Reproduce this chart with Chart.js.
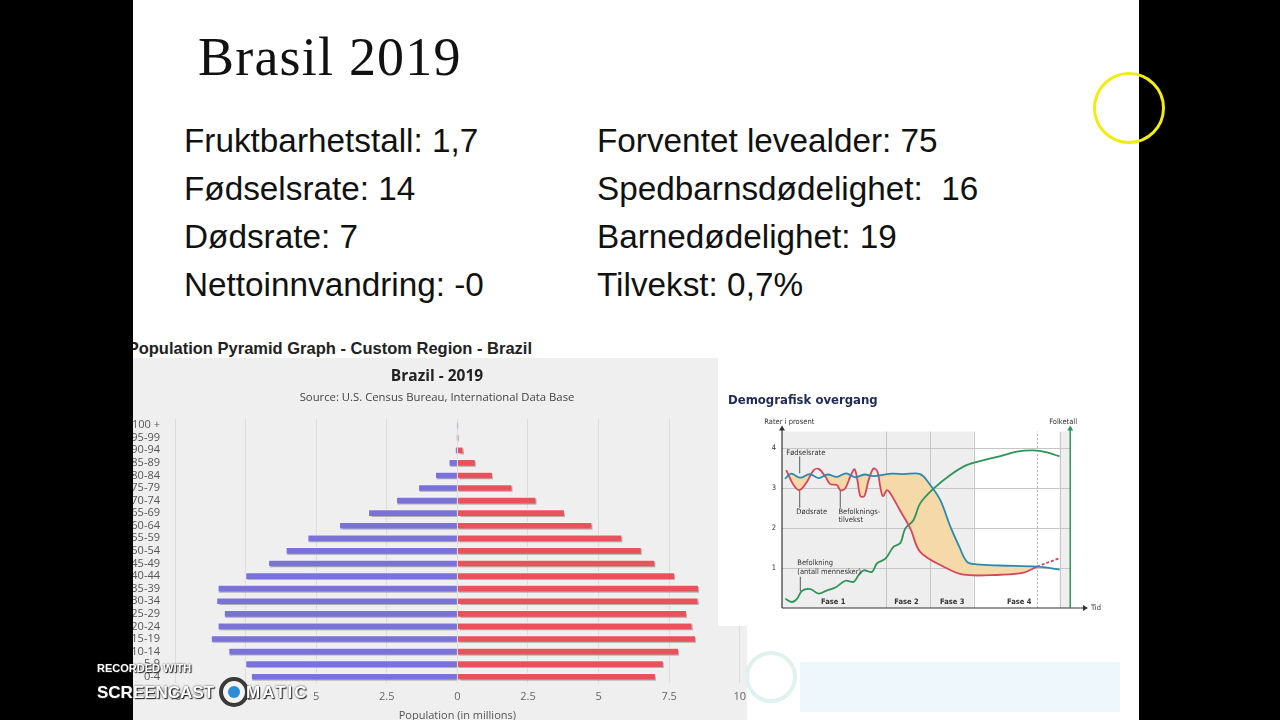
<!DOCTYPE html>
<html>
<head>
<meta charset="utf-8">
<title>Brasil 2019</title>
<script src="https://cdn.jsdelivr.net/npm/chart.js@4.4.1/dist/chart.umd.min.js"></script>
<style>
  html, body { margin: 0; padding: 0; width: 1280px; height: 720px; overflow: hidden; background: #000; }
  .abs { position: absolute; white-space: pre; }
  #slide { position: absolute; left: 133px; top: 0; width: 1006px; height: 720px; background: #fff; }
  #title { left: 198px; top: 30px; font: 54px/1 "Liberation Serif", serif; letter-spacing: 1.2px; color: #111; }
  .stats { top: 116.6px; font: 33.3px/48px "Liberation Sans", Arial, sans-serif; color: #111; }
  #pyrHead { right: 748px; top: 339.5px; font: bold 16.5px/1 "Liberation Sans", Arial, sans-serif; color: #222; }
  #pyrPanel { left: 133px; top: 358px; width: 614px; height: 362px; background: #efefef; }
  #pyramid { position: absolute; left: 118px; top: 360px; }
  #whiteBox { left: 718px; top: 358px; width: 32px; height: 268px; background: #fff; }
  #demoHead { left: 728px; top: 393px; font: bold 13px/1 "DejaVu Sans Condensed", "DejaVu Sans", sans-serif; color: #1f2a55; }
  #demo { position: absolute; left: 760px; top: 415px; }
  #band { left: 800px; top: 662px; width: 320px; height: 50px; background: #eef7fb; }
  #bandRing { left: 745px; top: 651px; width: 52px; height: 52px; box-sizing: border-box; border: 4px solid #e0f2f0; border-radius: 50%; }
  #ring { left: 1093px; top: 72px; width: 72px; height: 72px; box-sizing: border-box; border: 3px solid #f0ec14; border-radius: 50%; z-index: 8; }
  .bar { background: #000; top: 0; height: 720px; z-index: 5; }
  .wm { font: bold 17px/1 "Liberation Sans", Arial, sans-serif; color: #fff; text-shadow: 0 0 2px #222, 1px 1px 1px #222; z-index: 9; }
  #wmSmall { left: 97px; top: 663px; font-size: 11px; }
  #wmLeft { left: 97px; top: 684px; }
  #wmRight { left: 246px; top: 684px; letter-spacing: 2px; }
  #wmLogo { left: 219px; top: 677px; width: 30px; height: 30px; box-sizing: border-box; border: 4px solid #3a3a3a; background: #f4f4f4; border-radius: 50%; z-index: 9; }
  #wmDot { left: 228px; top: 686px; width: 12px; height: 12px; background: #2d8ed8; border-radius: 50%; z-index: 10; }
</style>
</head>
<body>
<div id="slide"></div>
<div class="abs" id="title">Brasil 2019</div>
<div class="abs stats" style="left:184px">Fruktbarhetstall: 1,7
Fødselsrate: 14
Dødsrate: 7
Nettoinnvandring: -0</div>
<div class="abs stats" style="left:597px">Forventet levealder: 75
Spedbarnsdødelighet:  16
Barnedødelighet: 19
Tilvekst: 0,7%</div>

<div class="abs" id="pyrPanel"></div>
<canvas id="pyramid" width="635" height="375"></canvas>
<div class="abs" id="whiteBox"></div>
<div class="abs" id="pyrHead">Population Pyramid Graph - Custom Region - Brazil</div>

<div class="abs" id="demoHead">Demografisk overgang</div>
<canvas id="demo" width="350" height="200"></canvas>

<div class="abs" id="band"></div>
<div class="abs" id="bandRing"></div>

<div class="abs bar" style="left:0;width:133px"></div>
<div class="abs bar" style="left:1139px;width:141px"></div>
<div class="abs" id="ring"></div>

<div class="abs wm" id="wmSmall">RECORDED WITH</div>
<div class="abs wm" id="wmLeft">SCREENCAST</div>
<div class="abs" id="wmLogo"></div>
<div class="abs" id="wmDot"></div>
<div class="abs wm" id="wmRight">MATIC</div>

<script>
// Population pyramid, Brazil 2019 (millions), top row = oldest
const ageGroups = ['100 +', '95-99', '90-94', '85-89', '80-84', '75-79', '70-74', '65-69', '60-64', '55-59',
  '50-54', '45-49', '40-44', '35-39', '30-34', '25-29', '20-24', '15-19', '10-14', '5-9', '0-4'];
const male = [0.01, 0.02, 0.07, 0.3, 0.78, 1.38, 2.16, 3.15, 4.18, 5.3,
  6.07, 6.69, 7.5, 8.48, 8.53, 8.26, 8.48, 8.72, 8.1, 7.5, 7.3];
const female = [0.02, 0.04, 0.21, 0.64, 1.25, 1.94, 2.79, 3.8, 4.77, 5.83,
  6.52, 7.0, 7.7, 8.55, 8.53, 8.12, 8.32, 8.44, 7.84, 7.3, 7.02];
const popTicks = [-10, -7.5, -5, -2.5, 0, 2.5, 5, 7.5, 10];

// Demographic transition sketch (time 0-100, rate 0-4.5)
const birthT = [1, 3, 6, 9, 12, 15, 18, 21, 24, 27, 30, 33, 36, 40, 45.3, 48.6, 51.9, 55.2, 58, 60.7, 63.9, 71.6, 83.6, 91];
const birthV = [3.22, 3.35, 3.25, 3.34, 3.24, 3.33, 3.27, 3.36, 3.26, 3.33, 3.29, 3.32, 3.35, 3.34, 3.34, 3.07, 2.69, 2.03, 1.55, 1.15, 1.09, 1.06, 1.03, 0.96];
const deathT = [1.4, 3.8, 5.8, 8.2, 10.4, 12, 14.2, 15.8, 18, 19.1, 20.7, 22.4, 23.8, 24.8, 25.7, 27, 28.4, 30, 31.3, 32.2, 33.1, 34.4, 35.5,
  38.8, 42.1, 45.3, 53, 59.5, 71.6, 79.2, 83.6, 91.2];
const deathV = [3.44, 3.07, 2.94, 3.15, 3.44, 3.47, 3.28, 3.09, 3.07, 2.94, 2.98, 3.28, 3.46, 3.15, 2.79, 2.79, 3.19, 3.48, 3.4, 3.03, 2.79, 2.94, 2.86,
  2.42, 1.98, 1.4, 1.03, 0.83, 0.83, 0.88, 1.03, 1.25];
const popT = [1.1, 3.3, 4.9, 6.6, 9.3, 12, 14.8, 17.5, 20.8, 23.5, 25.1, 26.8, 29.5, 31.1, 33.9, 36.6, 38.8, 40.4, 43.1, 45.3, 49.7, 55.2,
  60.7, 66.2, 71.6, 77, 82.5, 86.9, 91];
const popV = [0.23, 0.15, 0.23, 0.43, 0.47, 0.36, 0.44, 0.51, 0.68, 0.65, 0.82, 0.94, 0.9, 1.11, 1.23, 1.53, 1.62, 1.98, 2.19, 2.61, 2.98, 3.32,
  3.57, 3.69, 3.79, 3.9, 3.93, 3.88, 3.78];
const phaseEdges = [34, 48.4, 62.8, 91];
const rateTicks = [1, 2, 3, 4];

// bars have a small drop shadow in the original
const barShadow = {
  id: 'barShadow',
  beforeDatasetsDraw(chart) {
    const ctx = chart.ctx;
    ctx.save();
    ctx.shadowColor = 'rgba(0,0,0,0.28)';
    ctx.shadowOffsetX = 1;
    ctx.shadowOffsetY = 1.5;
    ctx.shadowBlur = 1;
  },
  afterDatasetsDraw(chart) {
    chart.ctx.restore();
  }
};

const openSans = 'Open Sans';

new Chart(document.getElementById('pyramid'), {
  type: 'bar',
  data: {
    labels: ageGroups,
    datasets: [
      { label: 'Male', data: male.map(v => -v), backgroundColor: '#7b72d9', borderColor: '#f2f2ff', borderWidth: 1, barThickness: 7 },
      { label: 'Female', data: female, backgroundColor: '#e8525c', borderColor: '#fff2f2', borderWidth: 1, barThickness: 7 }
    ]
  },
  options: {
    indexAxis: 'y',
    responsive: false,
    animation: false,
    layout: { padding: { left: 6, right: 3, top: 0, bottom: 0 } },
    plugins: {
      legend: { display: false },
      tooltip: { enabled: false },
      title: {
        display: true, text: 'Brazil - 2019', color: '#222',
        font: { family: openSans, size: 15.5, weight: 'bold' },
        padding: { top: 7.7, bottom: 2 }
      },
      subtitle: {
        display: true, text: 'Source: U.S. Census Bureau, International Data Base', color: '#444',
        font: { family: openSans, size: 11.3 },
        padding: { top: 3, bottom: 14 }
      }
    },
    scales: {
      x: {
        stacked: true, min: -10, max: 10,
        afterBuildTicks: axis => { axis.ticks = popTicks.map(v => ({ value: v })); },
        ticks: { callback: v => Math.abs(v), color: '#666', font: { family: openSans, size: 11 }, padding: 7, maxRotation: 0, autoSkip: false },
        grid: { color: '#dcdcdc', drawTicks: false },
        border: { display: false },
        title: { display: true, text: 'Population (in millions)', color: '#555', font: { family: openSans, size: 11 }, padding: { top: 2, bottom: 12.4 } },
        afterFit: s => { s.height = 52; }
      },
      y: {
        stacked: true,
        ticks: { color: '#555', font: { family: openSans, size: 11 }, padding: 7, autoSkip: false },
        grid: { display: false },
        border: { display: false },
        afterFit: s => { s.width = 51; }
      }
    }
  },
  plugins: [barShadow]
});

// helpers for the transition diagram
function arrowHead(ctx, x, y, dir, color) {
  ctx.fillStyle = color;
  ctx.beginPath();
  if (dir === 'up') { ctx.moveTo(x, y - 4); ctx.lineTo(x - 3, y + 1); ctx.lineTo(x + 3, y + 1); }
  else { ctx.moveTo(x + 4, y); ctx.lineTo(x - 1, y - 3); ctx.lineTo(x - 1, y + 3); }
  ctx.closePath();
  ctx.fill();
}

const demoBackdrop = {
  id: 'demoBackdrop',
  beforeDraw(chart) {
    const { ctx, scales: { x, y } } = chart;
    const X = v => x.getPixelForValue(v), Y = v => y.getPixelForValue(v);
    ctx.save();
    ctx.fillStyle = '#eeeeee';
    ctx.fillRect(X(0), Y(4.4), X(62.8) - X(0), Y(0) - Y(4.4));
    ctx.fillRect(X(91), Y(4.4), X(94.5) - X(91), Y(0) - Y(4.4));
    ctx.strokeStyle = '#c6c6c6';
    ctx.lineWidth = 1;
    rateTicks.forEach(v => {
      ctx.beginPath(); ctx.moveTo(X(0), Math.round(Y(v)) + 0.5); ctx.lineTo(X(94.5), Math.round(Y(v)) + 0.5); ctx.stroke();
    });
    phaseEdges.forEach(t => {
      ctx.beginPath(); ctx.moveTo(Math.round(X(t)) + 0.5, Y(0)); ctx.lineTo(Math.round(X(t)) + 0.5, Y(4.4)); ctx.stroke();
    });
    ctx.setLineDash([2, 2]);
    ctx.strokeStyle = '#b5b5b5';
    ctx.beginPath(); ctx.moveTo(Math.round(X(83.6)) + 0.5, Y(0)); ctx.lineTo(Math.round(X(83.6)) + 0.5, Y(4.4)); ctx.stroke();
    ctx.restore();
  },
  afterDraw(chart) {
    const { ctx, scales: { x, y } } = chart;
    const X = v => x.getPixelForValue(v), Y = v => y.getPixelForValue(v);
    ctx.save();
    // axes
    ctx.lineWidth = 1.2;
    ctx.strokeStyle = '#333';
    ctx.beginPath(); ctx.moveTo(X(0), Y(0)); ctx.lineTo(X(0), Y(4.45)); ctx.stroke();
    arrowHead(ctx, X(0), Y(4.45), 'up', '#333');
    ctx.beginPath(); ctx.moveTo(X(0), Y(0)); ctx.lineTo(X(99), Y(0)); ctx.stroke();
    arrowHead(ctx, X(99), Y(0), 'right', '#333');
    ctx.strokeStyle = '#2e9458';
    ctx.lineWidth = 1.5;
    ctx.beginPath(); ctx.moveTo(X(94.5), Y(0)); ctx.lineTo(X(94.5), Y(4.45)); ctx.stroke();
    arrowHead(ctx, X(94.5), Y(4.45), 'up', '#2e9458');

    // leader lines
    ctx.strokeStyle = '#333';
    ctx.lineWidth = 0.8;
    [[5.8, 3.78, 3.36], [5.8, 2.92, 2.5], [19.1, 2.92, 2.5], [6, 0.78, 0.42]].forEach(([t, a, b]) => {
      ctx.beginPath(); ctx.moveTo(X(t), Y(a)); ctx.lineTo(X(t), Y(b)); ctx.stroke();
    });

    // text
    ctx.fillStyle = '#333';
    ctx.textBaseline = 'middle';
    ctx.font = '7.5px "DejaVu Sans Condensed", "DejaVu Sans", sans-serif';
    ctx.textAlign = 'right';
    rateTicks.forEach(v => ctx.fillText(String(v), X(0) - 6, Y(v)));
    ctx.textAlign = 'left';
    [
      ['Rater i prosent', -5.8, 4.63], ['Folketall', 87.6, 4.63],
      ['Fødselsrate', 1.4, 3.87], ['Dødsrate', 4.7, 2.39],
      ['Befolknings-', 18.5, 2.39], ['tilvekst', 18.5, 2.19],
      ['Befolkning', 5.0, 1.11], ['(antall mennesker)', 5.0, 0.89],
      ['Tid', 101.3, 0]
    ].forEach(([s, t, v]) => ctx.fillText(s, X(t), Y(v)));
    ctx.textAlign = 'center';
    ctx.font = 'bold 7.5px "DejaVu Sans Condensed", "DejaVu Sans", sans-serif';
    [['Fase 1', 16.8], ['Fase 2', 40.8], ['Fase 3', 55.8], ['Fase 4', 77.8]]
      .forEach(([s, t]) => ctx.fillText(s, X(t), Y(0.15)));
    ctx.restore();
  }
};

const toPts = (ts, vs) => ts.map((t, i) => ({ x: t, y: vs[i] }));

new Chart(document.getElementById('demo'), {
  type: 'line',
  data: {
    datasets: [
      {
        label: 'Fødselsrate', data: toPts(birthT, birthV), borderColor: '#2b89b0', borderWidth: 1.8,
        pointRadius: 0, tension: 0.35,
        fill: { target: 1, above: '#f5d9a8', below: 'rgba(0,0,0,0)' }
      },
      {
        label: 'Dødsrate', data: toPts(deathT, deathV), borderColor: '#d6465a', borderWidth: 1.8,
        pointRadius: 0, tension: 0.35, fill: false,
        segment: { borderDash: c => c.p0.parsed.x >= 83 ? [3, 2] : undefined }
      },
      {
        label: 'Befolkning', data: toPts(popT, popV), borderColor: '#2e9458', borderWidth: 1.8,
        pointRadius: 0, tension: 0.35, fill: false
      }
    ]
  },
  options: {
    responsive: false,
    animation: false,
    layout: { padding: { left: 22, right: 23, top: 13, bottom: 7 } },
    plugins: { legend: { display: false }, tooltip: { enabled: false }, filler: { drawTime: 'beforeDatasetsDraw' } },
    scales: {
      x: { type: 'linear', min: 0, max: 100, display: false },
      y: { min: 0, max: 4.49, display: false }
    }
  },
  plugins: [demoBackdrop]
});
</script>
</body>
</html>
